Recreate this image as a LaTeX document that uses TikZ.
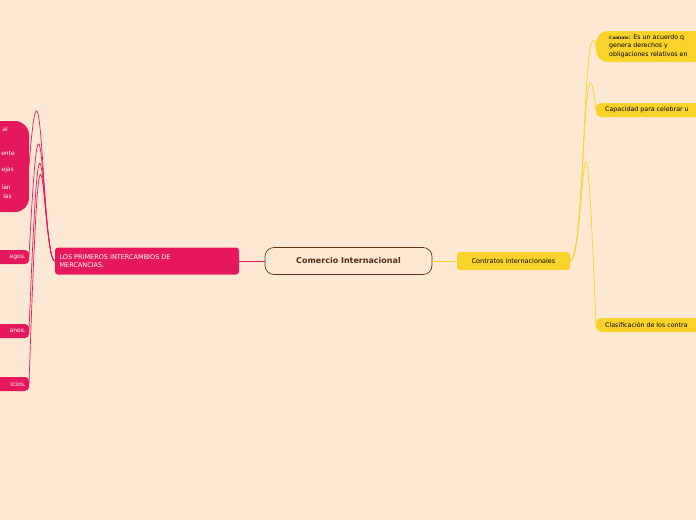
\documentclass[tikz,border=0pt]{standalone}
\usepackage{fontspec}
\setmainfont{DejaVu Sans}
\newfontfamily\serifb{Liberation Serif}
\definecolor{bg}{HTML}{FDE9D3}
\definecolor{pinkc}{HTML}{E5185D}
\definecolor{yel}{HTML}{F9D32A}
\definecolor{brn}{HTML}{6B3410}
\begin{document}
\begin{tikzpicture}[x=1pt,y=-1pt,
 pinkleaf/.style={fill=pinkc,rounded corners=5pt,text=white,font=\fontsize{6}{7}\selectfont,inner sep=0pt},
 yleaf/.style={fill=yel,rounded corners=6pt,font=\fontsize{6.3}{8}\selectfont,inner sep=0pt,anchor=west,align=left},
 pl/.style={draw=pinkc,line width=0.7pt},
 yl/.style={draw=yel,line width=0.7pt}]
\fill[bg] (0,0) rectangle (696,520);
\clip (0,0) rectangle (696,520);
% center
\node[draw=brn,fill=bg,rounded corners=9pt,minimum width=167pt,minimum height=27pt,font=\bfseries\fontsize{8}{10}\selectfont,text=brn!80!black,line width=0.7pt] (c) at (348.5,261) {Comercio Internacional};
% pink main
\node[fill=pinkc,rounded corners=3pt,minimum width=184pt,minimum height=27pt,inner sep=0pt] (p) at (147,261) {};
\node[text=white,font=\fontsize{6.5}{8}\selectfont,align=left,anchor=west] at (56,261) {LOS PRIMEROS INTERCAMBIOS DE\\MERCANCIAS.};
% yellow main
\node[fill=yel,rounded corners=3pt,minimum width=113pt,minimum height=18pt,inner sep=0pt,font=\fontsize{6.5}{8}\selectfont] (y) at (513.5,261) {Contratos internacionales};
% pink leaves
\fill[pinkc,rounded corners=14pt] (-30,121) rectangle (29,212);
\coordinate (l1) at (29,166);
\begin{scope}[font=\fontsize{6}{7}\selectfont,text=white]
\node[anchor=east,inner sep=0pt] at (8,129) {al};
\node[anchor=east,inner sep=0pt] at (15,153) {ente};
\node[anchor=east,inner sep=0pt] at (14,170) {ejas};
\node[anchor=east,inner sep=0pt] at (11,187) {ían};
\node[anchor=east,inner sep=0pt] at (12,196) {las};
\end{scope}
\fill[pinkc,rounded corners=4pt] (-30,250) rectangle (29,264);
\node[anchor=east,inner sep=0pt,text=white,font=\fontsize{6}{7}\selectfont] at (26,257) {egos.};
\coordinate (l2) at (29,257);
\fill[pinkc,rounded corners=4pt] (-30,324) rectangle (29,338);
\node[anchor=east,inner sep=0pt,text=white,font=\fontsize{6}{7}\selectfont] at (26,331) {anos.};
\coordinate (l3) at (29,331);
\fill[pinkc,rounded corners=4pt] (-30,377) rectangle (29,391);
\node[anchor=east,inner sep=0pt,text=white,font=\fontsize{6}{7}\selectfont] at (26,384) {icios.};
\coordinate (l4) at (29,384);
% yellow leaves
\fill[yel,rounded corners=12pt] (596,31) rectangle (720,62);
\node[anchor=west,align=left,font=\fontsize{6.3}{8.5}\selectfont,inner sep=0pt] at (609,46) {{\serifb\bfseries\fontsize{5}{6}\selectfont Contrato}: Es un acuerdo q\\genera derechos y\\obligaciones relativos en};
\coordinate (r1) at (596,46);
\fill[yel,rounded corners=5pt] (596,103) rectangle (720,117);
\node[anchor=west,font=\fontsize{6.3}{8}\selectfont,inner sep=0pt] at (605,110) {Capacidad para celebrar u};
\coordinate (r2) at (596,110);
\fill[yel,rounded corners=5pt] (596,318) rectangle (720,332);
\node[anchor=west,font=\fontsize{6.3}{8}\selectfont,inner sep=0pt] at (605,325) {Clasificación de los contra};
\coordinate (r3) at (596,325);
% connectors
\draw[pl] (c.west) -- (p.east);
\draw[draw=yel,line width=0.7pt] (c.east) -- (y.west);
\coordinate (ps) at (p.west);
\foreach \t in {l1,l2,l3,l4} \draw[pl] (ps) .. controls (42,261) and (42,{0}) .. (\t);
\coordinate (ys) at (y.east);
\foreach \t in {r1,r2,r3} \draw[yl] (ys) .. controls (585,261) and (583,{0}) .. (\t);
\end{tikzpicture}
\end{document}
